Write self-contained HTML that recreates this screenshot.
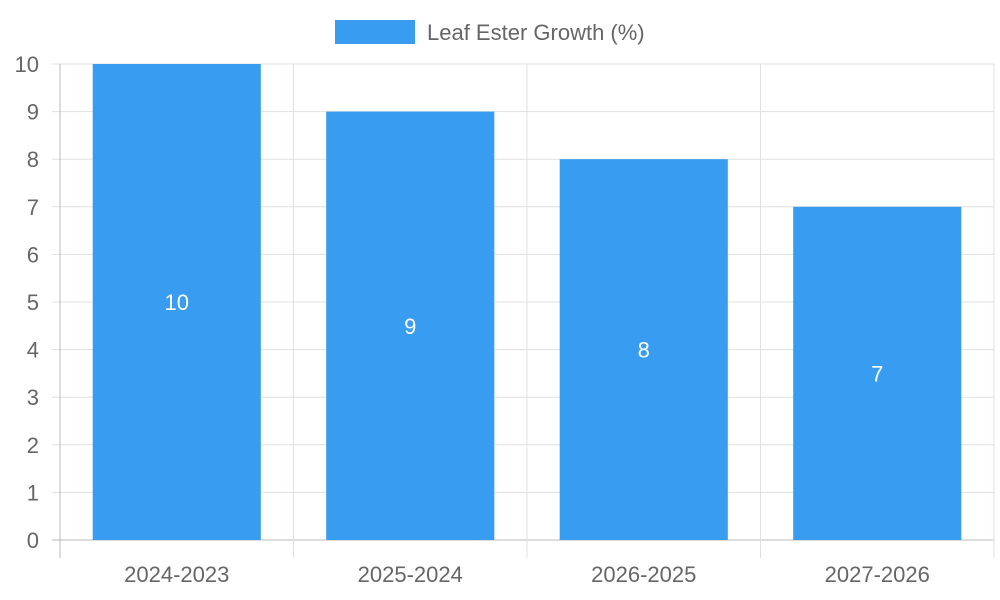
<!DOCTYPE html>
<html><head><meta charset="utf-8"><style>
html,body{margin:0;padding:0;background:#fff;}
svg{display:block;font-family:"Liberation Sans",sans-serif;}
</style></head><body>
<svg id="chart" width="1000" height="600">
<g>
<rect x="335" y="20" width="80" height="24" fill="#389cf0"></rect>
<text x="427" y="40" font-size="22" fill="#666">Leaf Ester Growth (%)</text>
</g>
<g id="grid"></g><g id="bars"></g><g id="axes"></g>
</svg>
<script>
const categories = ["2024-2023","2025-2024","2026-2025","2027-2026"];
const values = [10,9,8,7];
const yTicks = [0,1,2,3,4,5,6,7,8,9,10];
const NS="http://www.w3.org/2000/svg";
const L=60,R=994,T=64,B=540,yMax=10;
const bw=(R-L)/categories.length;
function y(v){return B-(v/yMax)*(B-T);}
function x(i){return L+bw*i;}
function mk(tag,attrs,parent){const e=document.createElementNS(NS,tag);for(const k in attrs)e.setAttribute(k,attrs[k]);parent.appendChild(e);return e;}
const grid=document.getElementById('grid'),bars=document.getElementById('bars'),axes=document.getElementById('axes');
yTicks.forEach(t=>{
  const g=mk('line',{x1:52,x2:R,y1:y(t),y2:y(t),stroke:t===0?'#bbb':'#e0e0e0','stroke-width':1},grid);
  
  
  const tx=mk('text',{x:39,y:y(t)+8,'text-anchor':'end','font-size':22,fill:'#666'},axes);
  tx.textContent=t;
  
  
});
for(let i=0;i<=categories.length;i++){
  const g=mk('line',{x1:x(i),x2:x(i),y1:T,y2:558,stroke:i===0?'#bbb':'#e0e0e0','stroke-width':1},grid);
  
  
}
categories.forEach((c,i)=>{
  const cx=x(i)+bw/2,w=bw*0.72;
  const r=mk('rect',{x:cx-w/2,y:y(values[i]),width:w,height:B-y(values[i]),fill:'#389cf0'},bars);
  
  
  const v=mk('text',{x:cx,y:(y(values[i])+B)/2+8,'text-anchor':'middle','font-size':22,fill:'#fff'},bars);
  v.textContent=values[i];
  
  
  const t=mk('text',{x:cx,y:582,'text-anchor':'middle','font-size':22,fill:'#666'},axes);
  t.textContent=c;
  
  
});
</script>
</body></html>
